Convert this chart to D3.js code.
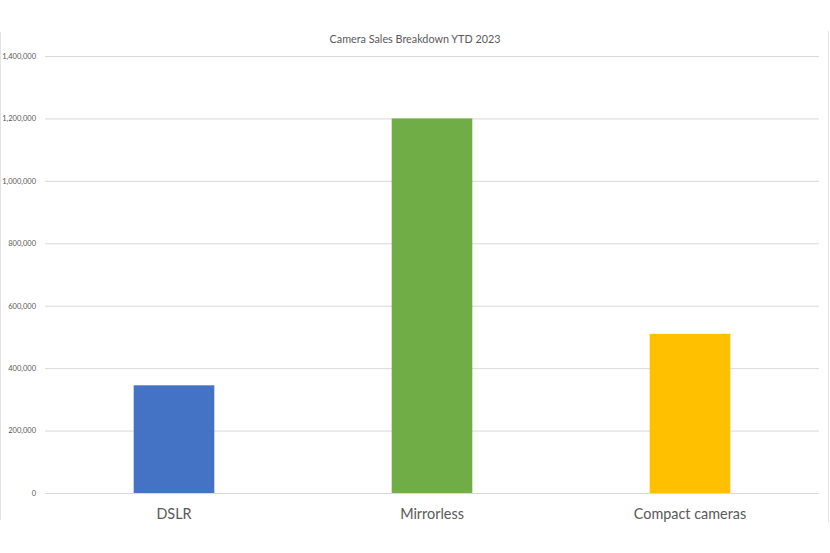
<!DOCTYPE html>
<html>
<head>
<meta charset="utf-8">
<script src="https://cdn.jsdelivr.net/npm/d3@7"></script>
<style>
  html, body { margin: 0; padding: 0; background: #fff; }
  svg { display: block; }
</style>
</head>
<body>
<svg id="chart" width="830" height="553"></svg>
<script>
// chart data
const categories = ['DSLR', 'Mirrorless', 'Compact cameras'];
const sales = [345000, 1200000, 510000];
const barColors = ['#4472c4', '#70ad47', '#ffc000'];
const yTicks = [0, 200000, 400000, 600000, 800000, 1000000, 1200000, 1400000];

const svg = d3.select('#chart');
const width = +svg.attr('width');
const margin = { top: 56, right: 11, bottom: 60, left: 45 };
const plotBottom = 493;

// faint frame edges on both sides
svg.append('line')
    .attr('x1', 0.5).attr('x2', 0.5).attr('y1', 32).attr('y2', 520)
    .attr('stroke', '#e3e3e3');
svg.append('line')
    .attr('x1', 828.5).attr('x2', 828.5).attr('y1', 31).attr('y2', 522)
    .attr('stroke', '#e3e3e3');

const x = d3.scaleBand()
    .domain(categories)
    .range([margin.left, width - margin.right])
    .paddingInner(0.6875)
    .paddingOuter(0.34375);

const y = d3.scaleLinear()
    .domain([0, 1400000])
    .range([plotBottom, margin.top]);

// gridlines + tick labels
const yAxis = d3.axisLeft(y)
    .tickValues(yTicks)
    .tickSize(-(width - margin.right - margin.left))
    .tickPadding(9)
    .tickFormat(d3.format(','));

svg.append('g')
    .attr('transform', `translate(${margin.left},0)`)
    .call(yAxis)
    .call(g => g.select('.domain').remove())
    .call(g => g.selectAll('.tick line').attr('stroke', '#d9d9d9').attr('stroke-width', 1))
    .call(g => g.selectAll('.tick text')
        .attr('fill', '#595959')
        .style('font-family', 'Lato, "Open Sans", sans-serif')
        .style('font-size', '7.5px'));

// bars
svg.append('g').selectAll('rect')
    .data(sales)
  .enter().append('rect')
    .attr('x', (d, i) => x(categories[i]))
    .attr('y', d => y(d))
    .attr('width', x.bandwidth())
    .attr('height', d => y(0) - y(d))
    .attr('fill', (d, i) => barColors[i]);

// category labels
svg.append('g').selectAll('text')
    .data(categories)
  .enter().append('text')
    .attr('x', d => x(d) + x.bandwidth() / 2)
    .attr('y', 519)
    .attr('text-anchor', 'middle')
    .attr('fill', '#595959')
    .style('font-family', 'Lato, "Open Sans", sans-serif')
    .style('font-size', '14.4px')
    .text(d => d);

// title
svg.append('text')
    .attr('x', 415)
    .attr('y', 43)
    .attr('text-anchor', 'middle')
    .attr('fill', '#595959')
    .style('font-family', 'Lato, "Open Sans", sans-serif')
    .style('font-size', '10.8px')
    .text('Camera Sales Breakdown YTD 2023');
</script>
</body>
</html>
